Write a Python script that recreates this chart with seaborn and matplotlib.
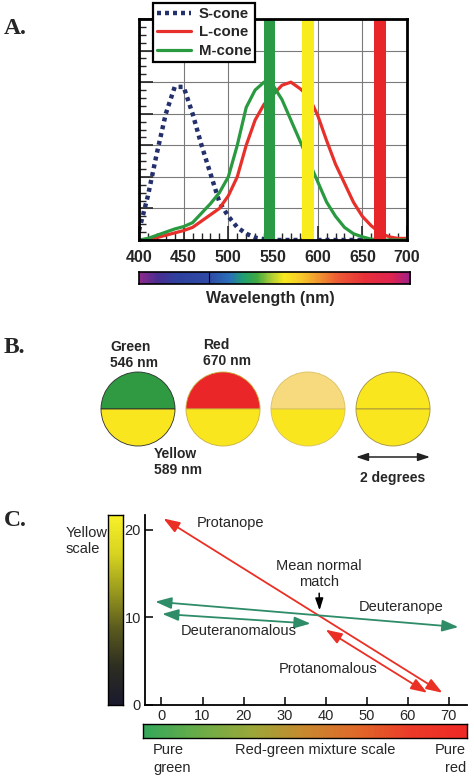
import numpy as np
import pandas as pd
import matplotlib
matplotlib.use("Agg")
import matplotlib.pyplot as plt
from matplotlib.colors import LinearSegmentedColormap
from matplotlib.patches import Wedge
from matplotlib.ticker import MultipleLocator
import seaborn as sns

W, H = 474, 781

# ---- Panel A data : cone sensitivities ----
wavelength = [400, 410, 420, 430, 440, 450, 460, 470, 480, 490, 500, 510, 520, 530, 540,
              550, 560, 570, 580, 590, 600, 610, 620, 630, 640, 650, 660, 670, 680, 690, 700]
s_cone = [0.06, 0.28, 0.55, 0.80, 0.97, 0.97, 0.80, 0.60, 0.42, 0.24, 0.15, 0.08, 0.04, 0.015, 0.005,
          0, 0, 0, 0, 0, 0, 0, 0, 0, 0, 0, 0, 0, 0, 0, 0]
l_cone = [0.0, 0.005, 0.015, 0.03, 0.045, 0.06, 0.08, 0.12, 0.16, 0.20, 0.28, 0.40, 0.60, 0.76, 0.86,
          0.92, 0.98, 1.0, 0.96, 0.91, 0.79, 0.63, 0.48, 0.36, 0.24, 0.15, 0.09, 0.045, 0.02, 0.01, 0.01]
m_cone = [0.0, 0.01, 0.03, 0.05, 0.07, 0.085, 0.11, 0.17, 0.23, 0.30, 0.40, 0.60, 0.84, 0.95, 1.0,
          0.98, 0.89, 0.76, 0.63, 0.50, 0.37, 0.24, 0.15, 0.08, 0.04, 0.02, 0.005, 0.0, 0.0, 0.0, 0.0]
band_nm = [546, 589, 670]
band_colors = ['#2a9a44', '#f8ec1c', '#e8262a']

spec_stops = [400, 420, 440, 476, 500, 515, 530, 545, 560, 580, 600, 620, 650, 680, 700]
spec_colors = ['#8c2a8c', '#4a2e92', '#30409e', '#2f4aa6', '#2a70b8', '#20a070', '#40aa40', '#a8cc38',
               '#f8ea1e', '#f8c82a', '#f29230', '#ee5a34', '#e8303a', '#de2450', '#a0208a']

# ---- Panel B data : bipartite fields ----
disc_top = ['#2f9a41', '#ea2628', '#f8da7e', '#fae61e']
disc_bottom = ['#fae61e', '#fae61e', '#fae61e', '#fae61e']
disc_edge = ['#2b2b2b', '#c8b040', '#d8c060', '#a09040']

# ---- Panel C data : anomaloscope matches ----
arrow_names = ['Protanope', 'Protanomalous', 'Deuteranope', 'Deuteranomalous']
arrow_x0 = [0.5, 40.0, -1.5, 0.2]
arrow_y0 = [21.3, 8.6, 11.8, 10.4]
arrow_x1 = [68.4, 64.7, 72.3, 36.3]
arrow_y1 = [1.4, 1.4, 8.9, 9.3]
arrow_colors = ['#ea3025', '#ea3025', '#2e8c68', '#2e8c68']
label_x = [8.5, 28.5, 48.0, 4.6]
label_y = [20.8, 4.1, 11.2, 8.4]
normal_match = (38.5, 10.4)
rg_ticks = [0, 10, 20, 30, 40, 50, 60, 70]
yellow_ticks = [0, 10, 20]
rg_colors = ['#35a85a', '#6aac48', '#9aa83a', '#c8882e', '#e0682a', '#ec3a28', '#f02a26']
yellow_colors = ['#1a1a2e', '#2e2e22', '#5a5a1e', '#9a9a1e', '#d8d420', '#f8f028']

sns.set_style("white")
plt.rcParams['font.family'] = ['Liberation Sans', 'DejaVu Sans']


def box(x0, y0, x1, y1):
    return [x0 / W, 1 - y1 / H, (x1 - x0) / W, (y1 - y0) / H]


fig = plt.figure(figsize=(W / 100, H / 100), dpi=100)

# ================= Panel A =================
axA = fig.add_axes(box(139, 19, 407, 240))
sns.lineplot(x=wavelength, y=s_cone, ax=axA, color='#24306c', lw=3.2,
             linestyle=(0, (0.9, 0.9)), label='S-cone')
sns.lineplot(x=wavelength, y=l_cone, ax=axA, color='#e8302a', lw=2.3, label='L-cone')
sns.lineplot(x=wavelength, y=m_cone, ax=axA, color='#2a9a40', lw=2.3, label='M-cone')
for nm, c in zip(band_nm, band_colors):
    axA.axvspan(nm - 6.5, nm + 6.5, color=c, lw=0, zorder=5)
axA.set_xlim(400, 700)
axA.set_ylim(0, 1.4)
axA.set_xticks(range(400, 701, 50))
axA.set_yticks(np.arange(0, 1.41, 0.2))
axA.set_yticklabels([])
axA.xaxis.set_minor_locator(MultipleLocator(10))
axA.yaxis.set_minor_locator(MultipleLocator(0.05))
axA.set_axisbelow(True)
axA.grid(True, which='major', color='#7a7a7a', lw=0.8)
axA.tick_params(which='major', direction='in', length=10, width=1.2, left=True, bottom=True,
                labelsize=11.5, pad=7)
axA.tick_params(which='minor', direction='in', length=5, width=1.0, left=True, bottom=True)
for lab in axA.get_xticklabels():
    lab.set_fontweight('bold')
for sp in axA.spines.values():
    sp.set_linewidth(2)
    sp.set_color('black')
    sp.set_zorder(6)
axA.set_xlabel('')
leg = axA.legend(loc='upper left', bbox_to_anchor=(153 / W, 1 - 3 / H), bbox_transform=fig.transFigure,
                 frameon=True, fancybox=False, edgecolor='black', framealpha=1, borderpad=0.25,
                 labelspacing=0.3, handlelength=2.3, handletextpad=0.5, borderaxespad=0,
                 prop=dict(weight='bold', size=10.8))
leg.get_frame().set_linewidth(1.6)
leg.set_zorder(10)

axS = fig.add_axes(box(139, 272, 410, 284))
spec_cmap = LinearSegmentedColormap.from_list(
    'spec', [((s - 400) / 300, c) for s, c in zip(spec_stops, spec_colors)])
axS.imshow(np.arange(400, 701)[None, :], cmap=spec_cmap, aspect='auto', extent=(400, 700, 0, 1))
axS.axvline(478, color='black', lw=0.8)
axS.set_xticks([])
axS.set_yticks([])
for sp in axS.spines.values():
    sp.set_linewidth(1.2)
    sp.set_color('black')
fig.text(270 / W, 1 - 298 / H, 'Wavelength (nm)', ha='center', va='center', fontsize=11.5,
         fontweight='bold')

# ================= Panel B =================
axB = fig.add_axes(box(0, 325, 474, 495))
axB.set_xlim(0, W)
axB.set_ylim(H - 495, H - 325)
axB.axis('off')
cx0, spacing, cy, r = 138, 85, H - 409, 37
for i in range(len(disc_top)):
    cx = cx0 + i * spacing
    axB.add_patch(Wedge((cx, cy), r, 0, 180, facecolor=disc_top[i], edgecolor=disc_edge[i], lw=0.6))
    axB.add_patch(Wedge((cx, cy), r, 180, 360, facecolor=disc_bottom[i], edgecolor=disc_edge[i], lw=0.6))
axB.text(110, H - 340, 'Green\n546 nm', ha='left', va='top', fontsize=10, fontweight='bold',
         linespacing=1.15)
axB.text(203, H - 338, 'Red\n670 nm', ha='left', va='top', fontsize=10, fontweight='bold',
         linespacing=1.15)
axB.text(154, H - 447, 'Yellow\n589 nm', ha='left', va='top', fontsize=10, fontweight='bold',
         linespacing=1.15)
cx_last = cx0 + (len(disc_top) - 1) * spacing
axB.annotate('', xy=(cx_last + r, H - 457), xytext=(cx_last - r, H - 457),
             arrowprops=dict(arrowstyle='<|-|>,head_length=0.6,head_width=0.2', color='#222222',
                             lw=1.1, shrinkA=0, shrinkB=0, mutation_scale=12))
axB.text(cx_last, H - 478, '2 degrees', ha='center', va='center', fontsize=10, fontweight='bold')

# ================= Panel C =================
axC = fig.add_axes(box(145, 515, 467, 705))
axC.set_xlim(-4, 74.4)
axC.set_ylim(0, 21.7)
sns.despine(ax=axC)
for sp in ['left', 'bottom']:
    axC.spines[sp].set_linewidth(1.3)
    axC.spines[sp].set_color('black')
axC.set_xticks(rg_ticks)
axC.set_yticks(yellow_ticks)
axC.tick_params(direction='in', length=6, width=1.3, left=True, bottom=True, labelsize=10.5, pad=3)
for name, x0, y0, x1, y1, c in zip(arrow_names, arrow_x0, arrow_y0, arrow_x1, arrow_y1, arrow_colors):
    axC.annotate('', xy=(x1, y1), xytext=(x0, y0),
                 arrowprops=dict(arrowstyle='<|-|>,head_length=0.7,head_width=0.25', color=c,
                                 lw=1.3, shrinkA=0, shrinkB=0, mutation_scale=14))
for name, x, y in zip(arrow_names, label_x, label_y):
    axC.text(x, y, name, ha='left', va='center', fontsize=10.5)
axC.annotate('Mean normal\nmatch', xy=(normal_match[0], normal_match[1] + 0.4),
             xytext=(normal_match[0] - 0.2, 13.3), ha='center', va='bottom', fontsize=10.5,
             linespacing=1.15,
             arrowprops=dict(arrowstyle='-|>,head_length=0.6,head_width=0.2', color='black', lw=1.1,
                             shrinkA=1, shrinkB=0, mutation_scale=12))

axY = fig.add_axes(box(108, 515, 123, 705))
y_cmap = LinearSegmentedColormap.from_list('yel', yellow_colors)
axY.imshow(np.arange(0, 101)[::-1, None], cmap=y_cmap, aspect='auto')
axY.set_xticks([])
axY.set_yticks([])
for sp in axY.spines.values():
    sp.set_linewidth(1.0)
    sp.set_color('black')
fig.text(66 / W, 1 - 541 / H, 'Yellow\nscale', ha='left', va='center', fontsize=10.5, linespacing=1.2)

axRG = fig.add_axes(box(143, 724, 467, 738))
rg_cmap = LinearSegmentedColormap.from_list('rg', rg_colors)
axRG.imshow(np.arange(0, 101)[None, :], cmap=rg_cmap, aspect='auto')
axRG.set_xticks([])
axRG.set_yticks([])
for sp in axRG.spines.values():
    sp.set_linewidth(1.0)
    sp.set_color('black')
fig.text(153 / W, 1 - 743 / H, 'Pure\ngreen', ha='left', va='top', fontsize=10.5, linespacing=1.35)
fig.text(315 / W, 1 - 750 / H, 'Red-green mixture scale', ha='center', va='center', fontsize=10.5)
fig.text(466 / W, 1 - 743 / H, 'Pure\nred', ha='right', va='top', fontsize=10.5, linespacing=1.35,
         multialignment='right')

# panel letters
for letter, ypx in zip(['A.', 'B.', 'C.'], [28, 348, 521]):
    fig.text(4 / W, 1 - ypx / H, letter, ha='left', va='center', fontsize=17, fontweight='bold',
             family=['Liberation Serif', 'DejaVu Serif'])

fig.savefig('out.png', dpi=100)
